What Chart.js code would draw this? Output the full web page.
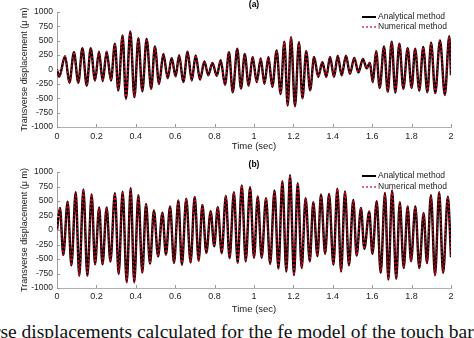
<!DOCTYPE html>
<html><head><meta charset="utf-8">
<script src="https://cdn.jsdelivr.net/npm/chart.js@4.4.0/dist/chart.umd.min.js"></script>
<style>
html,body{margin:0;padding:0;background:#fff;width:474px;height:338px;overflow:hidden;position:relative;}
canvas{position:absolute;left:0;}
#ca{top:0;}
#cb{top:152px;}
#caption{position:absolute;left:-6px;top:322px;font-family:"Liberation Serif",serif;font-size:19.5px;line-height:19.5px;white-space:nowrap;color:#111;}
</style></head><body>
<canvas id="ca" width="474" height="152"></canvas>
<canvas id="cb" width="474" height="163"></canvas>
<div id="caption">rse displacements calculated for the fe model of the touch bar</div>
<script>
// ---- data (local extrema of each trace) ----
const seriesLabels = ['Analytical method', 'Numerical method'];
const panelTitles = ['(a)', '(b)'];
const xTickValues = [0, 0.2, 0.4, 0.6, 0.8, 1, 1.2, 1.4, 1.6, 1.8, 2];
const xTickLabels = ['0', '0.2', '0.4', '0.6', '0.8', '1', '1.2', '1.4', '1.6', '1.8', '2'];
const yTickValues = [-1000, -750, -500, -250, 0, 250, 500, 750, 1000];
const yTickLabels = ['-1000', '-750', '-500', '-250', '0', '250', '500', '750', '1000'];

const timeA = [0.000,0.011,0.041,0.063,0.086,0.108,0.129,0.151,0.171,0.193,0.213,0.232,0.252,0.274,0.294,0.311,0.333,0.350,0.372,0.393,
  0.413,0.433,0.455,0.478,0.497,0.518,0.540,0.562,0.582,0.602,0.620,0.641,0.663,0.684,0.704,0.726,0.748,0.768,0.789,0.811,
  0.831,0.853,0.873,0.892,0.915,0.934,0.953,0.973,0.993,1.014,1.034,1.053,1.073,1.093,1.115,1.135,1.154,1.171,1.188,1.208,
  1.228,1.246,1.265,1.285,1.305,1.326,1.347,1.367,1.386,1.406,1.425,1.445,1.467,1.487,1.509,1.530,1.553,1.572,1.588,1.603,
  1.620,1.638,1.660,1.679,1.699,1.717,1.738,1.758,1.780,1.800,1.818,1.839,1.859,1.880,1.899,1.920,1.944,1.969,1.991,2.000];
const analyticalA = [0,-125,230,-230,300,-230,370,-280,370,-190,310,-200,310,-190,450,-365,590,-510,660,-480,
  545,-380,530,-335,400,-250,270,-150,200,-120,250,-220,310,-190,245,-175,140,-100,115,-110,
  160,-265,300,-395,360,-330,270,-280,220,-220,190,-250,220,-300,330,-425,485,-625,560,-640,
  475,-500,320,-360,220,-130,125,-130,220,-130,240,-100,240,-75,200,-50,185,20,120,-220,
  320,-320,400,-385,485,-400,450,-335,370,-320,360,-365,390,-395,465,-410,505,-440,580,-100];
// numerical trace coincides with the analytical one in the picture
const numericalA = [...analyticalA];

const timeB = [0.000,0.015,0.032,0.054,0.073,0.095,0.113,0.134,0.154,0.176,0.193,0.214,0.231,0.252,0.271,0.294,0.313,0.333,0.354,0.374,
  0.392,0.413,0.433,0.452,0.472,0.492,0.513,0.535,0.553,0.574,0.594,0.616,0.634,0.656,0.678,0.699,0.719,0.738,0.758,0.780,
  0.798,0.816,0.836,0.857,0.876,0.898,0.917,0.938,0.958,0.980,1.000,1.019,1.039,1.061,1.082,1.104,1.124,1.144,1.164,1.183,
  1.203,1.222,1.242,1.262,1.283,1.301,1.322,1.340,1.361,1.381,1.403,1.423,1.442,1.462,1.482,1.504,1.521,1.543,1.560,1.585,
  1.601,1.623,1.643,1.665,1.682,1.701,1.722,1.740,1.760,1.780,1.797,1.819,1.839,1.861,1.878,1.898,1.919,1.940,1.960,1.984,2.000];
const analyticalB = [0,380,-430,490,-610,650,-790,700,-790,615,-590,390,-590,390,-545,635,-760,660,-900,720,
  -900,600,-735,450,-580,335,-455,300,-425,405,-570,510,-600,540,-560,570,-530,430,-395,325,
  -280,395,-400,585,-485,650,-565,770,-540,740,-480,580,-480,550,-585,680,-665,840,-715,945,
  -775,805,-655,550,-540,480,-450,615,-410,620,-600,710,-715,665,-610,520,-440,380,-325,320,
  -410,495,-740,640,-855,680,-840,480,-655,405,-540,405,-655,290,-570,600,-780,650,-740,575,-470];
const numericalB = [...analyticalB];

Chart.defaults.font.family = '"Liberation Sans", Arial, sans-serif';
Chart.defaults.color = '#222';

const innerTicks = {
  id: 'innerTicks',
  afterDatasetsDraw(chart) {
    const {ctx, chartArea, scales} = chart;
    ctx.save();
    ctx.strokeStyle = '#9a9a9a';
    ctx.lineWidth = 1;
    scales.x.ticks.forEach(t => {
      const px = Math.round(scales.x.getPixelForValue(t.value)) + 0.5;
      ctx.beginPath(); ctx.moveTo(px, chartArea.bottom); ctx.lineTo(px, chartArea.bottom - 3); ctx.stroke();
    });
    scales.y.ticks.forEach(t => {
      const py = Math.round(scales.y.getPixelForValue(t.value)) + 0.5;
      ctx.beginPath(); ctx.moveTo(chartArea.left, py); ctx.lineTo(chartArea.left + 3, py); ctx.stroke();
    });
    ctx.restore();
  }
};

const insideLegend = {
  id: 'insideLegend',
  afterDraw(chart, args, opts) {
    const {ctx, chartArea} = chart;
    ctx.save();
    chart.data.datasets.forEach((ds, i) => {
      const y = chartArea.top + opts.top + i * opts.gap;
      const x0 = chartArea.right - opts.right;
      ctx.beginPath();
      ctx.setLineDash(ds.borderDash || []);
      ctx.strokeStyle = ds.borderColor;
      ctx.lineWidth = i === 0 ? 2 : 1.2;
      ctx.moveTo(x0, y); ctx.lineTo(x0 + opts.lineLen, y); ctx.stroke();
      ctx.setLineDash([]);
      ctx.fillStyle = '#222';
      ctx.font = '8.5px "Liberation Sans", Arial, sans-serif';
      ctx.textBaseline = 'middle';
      ctx.textAlign = 'left';
      ctx.fillText(ds.label, x0 + opts.lineLen + 2, y);
    });
    ctx.restore();
  }
};

function makePanel(id, times, analytical, numerical, title, g) {
  const toPts = vals => times.map((t, i) => ({x: t, y: vals[i]}));
  return new Chart(document.getElementById(id), {
    type: 'line',
    data: {
      datasets: [
        {label: seriesLabels[0], data: toPts(analytical), borderColor: '#000', borderWidth: 2.4,
         pointRadius: 0, cubicInterpolationMode: 'monotone', order: 1, fill: false},
        {label: seriesLabels[1], data: toPts(numerical), borderColor: '#e3001b', borderWidth: 1.4,
         borderDash: [2, 2], pointRadius: 0, cubicInterpolationMode: 'monotone', order: 0, fill: false}
      ]
    },
    options: {
      responsive: false, animation: false, devicePixelRatio: 1,
      layout: {padding: {left: 0, right: 23, top: 0, bottom: 0}},
      plugins: {legend: {display: false}, tooltip: {enabled: false}, title: {display: false},
        insideLegend: {top: g.legTop, gap: g.legGap, right: 89, lineLen: 14}},
      scales: {
        x: {
          type: 'linear', position: 'bottom', min: 0, max: 2,
          afterBuildTicks: s => { s.ticks = xTickValues.map(v => ({value: v})); },
          afterFit: s => { s.height = g.xH; },
          ticks: {autoSkip: false, maxRotation: 0, padding: g.xPad, font: {size: 9},
                  callback: (v, i) => xTickLabels[i]},
          grid: {display: false, drawTicks: false, tickLength: 0},
          border: {display: true, color: '#b0b0b0', width: 1},
          title: {display: true, text: 'Time (sec)', font: {size: 9.5}, padding: {top: 0, bottom: 0}}
        },
        x2: {
          type: 'linear', axis: 'x', position: 'top', min: 0, max: 2,
          afterFit: s => { s.height = g.topH; },
          ticks: {display: false},
          grid: {display: false, drawTicks: false},
          border: {display: false},
          title: {display: true, text: title, font: {size: 8.5, weight: 'bold'}, color: '#000',
                  padding: {top: g.titlePad, bottom: 0}}
        },
        y: {
          type: 'linear', position: 'left', min: -1000, max: 1000,
          afterBuildTicks: s => { s.ticks = yTickValues.map(v => ({value: v})); },
          afterFit: s => { s.width = 57; },
          ticks: {autoSkip: false, padding: 4, font: {size: 8.5},
                  callback: (v, i) => yTickLabels[i]},
          grid: {display: false, drawTicks: false, tickLength: 0},
          border: {display: true, color: '#a0a0a0', width: 1},
          title: {display: true, text: 'Transverse displacement (\u03bc m)', font: {size: 9},
                  padding: {top: 19, bottom: 0}}
        }
      }
    },
    plugins: [innerTicks, insideLegend]
  });
}

makePanel('ca', timeA, analyticalA, numericalA, panelTitles[0],
  {xH: 25, topH: 12, xPad: 4, titlePad: 0, legTop: 5, legGap: 10});
makePanel('cb', timeB, analyticalB, numericalB, panelTitles[1],
  {xH: 27, topH: 20, xPad: 3, titlePad: 8, legTop: 4, legGap: 11});
</script>
</body></html>
